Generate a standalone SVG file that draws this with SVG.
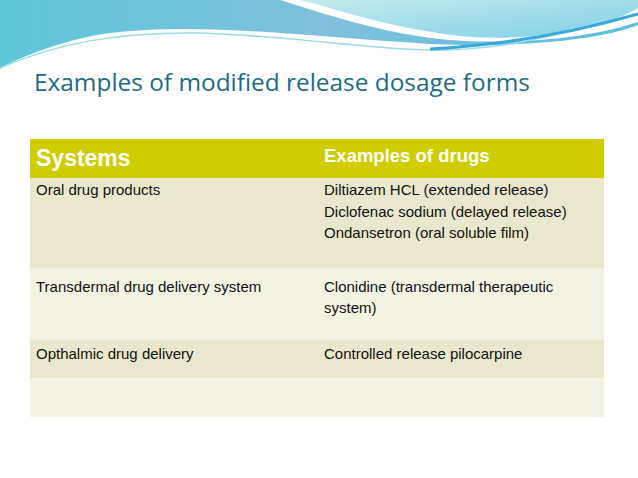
<svg xmlns="http://www.w3.org/2000/svg" width="638" height="478" viewBox="0 0 638 478">
<defs>
<linearGradient id="w1" x1="0" y1="0" x2="1" y2="0"><stop offset="0" stop-color="#5ec6dc"/><stop offset="0.5" stop-color="#80c0da"/><stop offset="1" stop-color="#5bbfe0"/></linearGradient>
<linearGradient id="w2" x1="0" y1="0" x2="1" y2="1"><stop offset="0" stop-color="#c4ebef"/><stop offset="1" stop-color="#80d0e6"/></linearGradient>
<style>
.t{font-family:"Liberation Sans",Arial,sans-serif;font-size:15px;fill:#111}
.h{font-family:"Liberation Sans",Arial,sans-serif;font-size:23px;font-weight:bold;fill:#fff}
.h2{font-family:"Liberation Sans",Arial,sans-serif;font-size:18.5px;font-weight:bold;fill:#fff}
</style>
</defs>
<rect width="638" height="478" fill="#fff"/>
<path d="M0 0 H638 V25 C600 40 520 48 430 44 C300 36 200 22 110 33 C60 40 20 58 0 68 Z" fill="url(#w1)"/>
<path d="M280 0 H638 V22 C590 38 520 45 450 40 C380 34 320 12 280 0 Z" fill="#fff"/>
<path d="M300 0 H638 V8 C600 32 520 42 460 36 C390 28 340 10 300 0 Z" fill="url(#w2)"/>
<path d="M0 68 C60 42 120 32 200 33 C300 36 380 52 450 50 C540 46 600 22 638 5" fill="none" stroke="#9adbe6" stroke-width="1.5"/>
<path d="M430 49 C520 44 590 28 638 14" fill="none" stroke="#3aa8d8" stroke-width="3"/>
<text x="34" y="91" font-family="'Open Sans','Liberation Sans',sans-serif" font-size="24.4" fill="#1d6b84">Examples of modified release dosage forms</text>
<g id="table">
<rect x="30" y="139" width="574" height="39" fill="#cfcc00"/>
<rect x="30" y="178" width="574" height="90" fill="#e9e8cc"/>
<rect x="30" y="268" width="574" height="72" fill="#f3f3e4"/>
<rect x="30" y="340" width="574" height="38" fill="#e9e8cc"/>
<rect x="30" y="378" width="574" height="39" fill="#f3f3e4"/>
<text class="h" x="36" y="166">Systems</text>
<text class="h2" x="324" y="162">Examples of drugs</text>
<text class="t" x="36" y="195">Oral drug products</text>
<text class="t" x="324" y="195">Diltiazem HCL (extended release)</text>
<text class="t" x="324" y="217">Diclofenac sodium (delayed release)</text>
<text class="t" x="324" y="238">Ondansetron (oral soluble film)</text>
<text class="t" x="36" y="292">Transdermal drug delivery system</text>
<text class="t" x="324" y="292">Clonidine (transdermal therapeutic</text>
<text class="t" x="324" y="313">system)</text>
<text class="t" x="36" y="359">Opthalmic drug delivery</text>
<text class="t" x="324" y="359">Controlled release pilocarpine</text>
</g>
</svg>
